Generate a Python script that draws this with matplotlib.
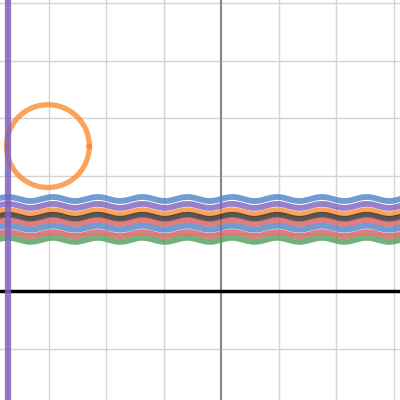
import numpy as np
import matplotlib
matplotlib.use("Agg")
import matplotlib.pyplot as plt

wave_offsets = [1.60, 1.48, 1.37, 1.29, 1.20, 1.10, 0.99, 0.89]
wave_colors = ["#4f81c9", "#7e61bd", "#fa8c32", "#2d2d2d", "#d65f5f", "#4f81c9", "#d65f5f", "#4f9e5a"]
wave_amp = 0.035
wave_period = 0.78
circle_center = (-3.01, 2.52)
circle_r = 0.72
vline_x = -3.70
hline_y = 0.0

fig = plt.figure(figsize=(4, 4), dpi=100)
ax = fig.add_axes([0, 0, 1, 1])
xmin, xmax = -221/57.5, 179/57.5
ymin, ymax = -109/57.5, 291/57.5
ax.set_xlim(xmin, xmax); ax.set_ylim(ymin, ymax)
ax.axis("off")
for gx in np.arange(-4, 4):
    ax.axvline(gx, color="#d4d4d4", lw=1, zorder=0)
for gy in np.arange(-2, 6):
    ax.axhline(gy, color="#d4d4d4", lw=1, zorder=0)
ax.axvline(0, color="#888888", lw=1.5, zorder=1)

xs = np.linspace(xmin, xmax, 800)
for off, c in zip(wave_offsets, wave_colors):
    ax.plot(xs, off + wave_amp*np.sin(2*np.pi*xs/wave_period), color=c, lw=4.2, alpha=0.8, zorder=3)

t = np.linspace(0, 2*np.pi, 300)
ax.plot(circle_center[0] + circle_r*np.cos(t), circle_center[1] + circle_r*np.sin(t), color="#fa8c32", lw=3.8, alpha=0.8, zorder=3)
ax.plot([circle_center[0]-circle_r, circle_center[0]+circle_r], [circle_center[1]]*2, 'o', color="#fa8c32", ms=3, alpha=0.9, zorder=4)

ax.axhline(hline_y, color="black", lw=2.5, zorder=4)
ax.axvline(vline_x, color="#7e61bd", lw=4.5, alpha=0.85, zorder=5)
fig.savefig("out.png", dpi=100)
